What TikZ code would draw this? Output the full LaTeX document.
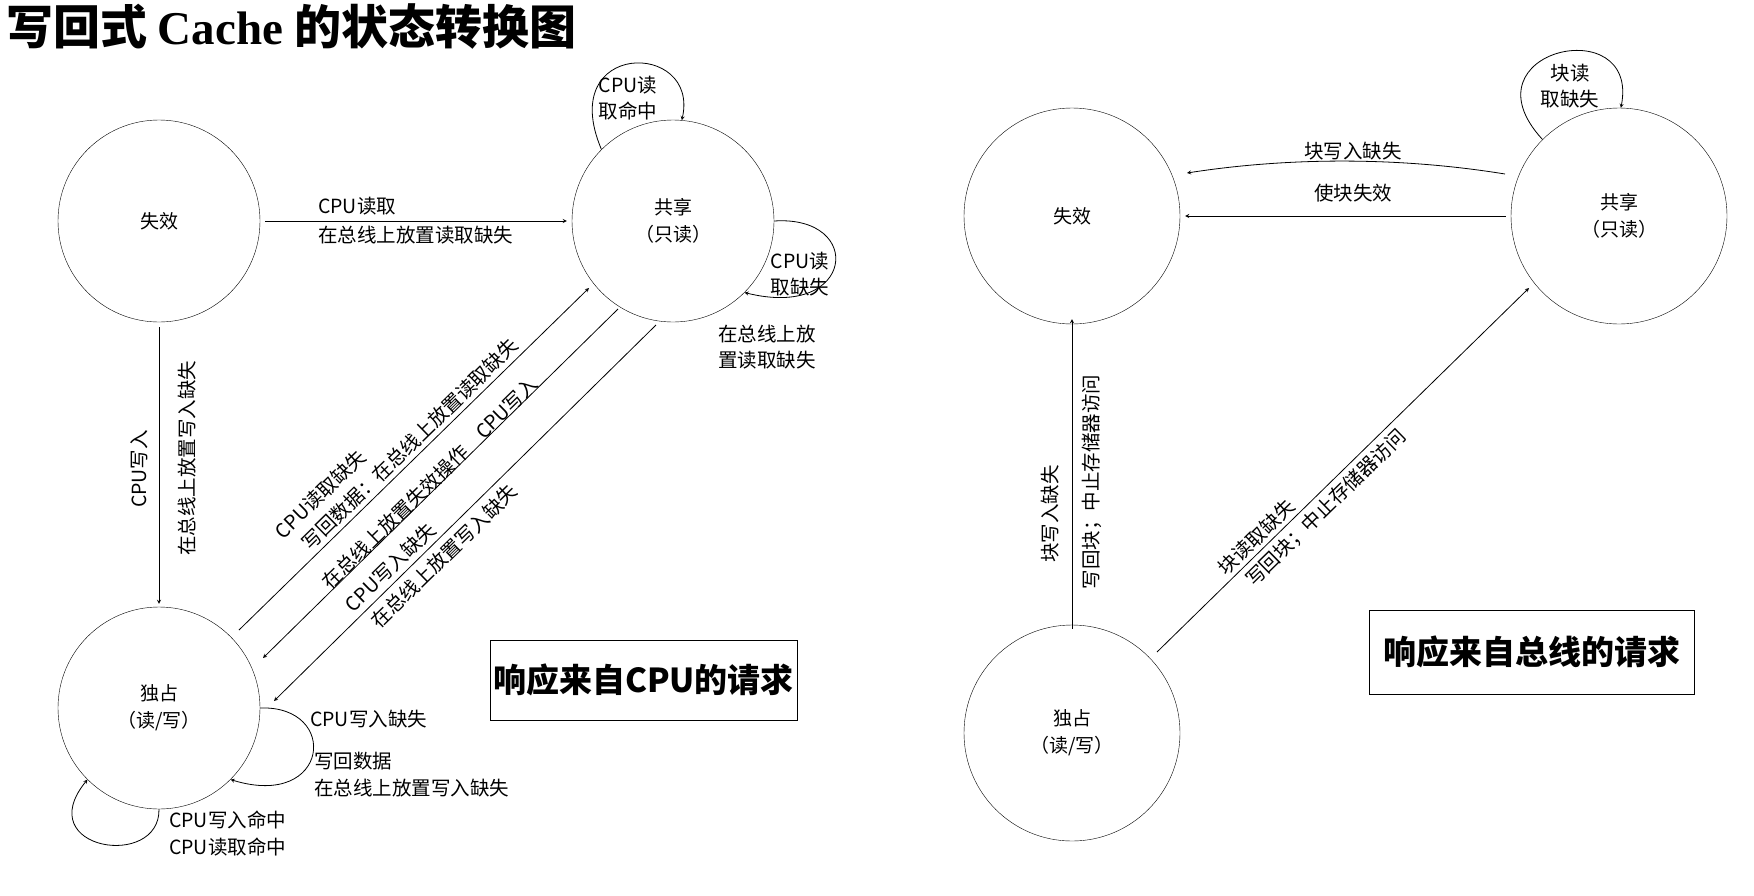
\documentclass[tikz,border=0pt]{standalone}
\usepackage{fontspec}
\setmainfont{Noto Sans CJK SC}
\newfontfamily\latinb{Liberation Serif}
\begin{document}
\begin{tikzpicture}[x=1pt,y=-1pt,
  st/.style={draw,circle,minimum size=202pt,inner sep=0pt,font=\fontsize{19}{27}\selectfont,align=center},
  stb/.style={st,minimum size=216pt},
  lb/.style={font=\fontsize{19.5}{26}\selectfont,inner sep=0pt,align=left},
  ar/.style={-stealth,line width=0.8pt},
  box/.style={draw,line width=0.8pt,font=\bfseries\fontsize{33}{36}\selectfont,inner sep=0pt}]
\useasboundingbox (0,0) rectangle (1754,895);
\node[anchor=base west,font=\bfseries\fontsize{47}{50}\selectfont,inner sep=0pt] (title) at (6,44) {写回式 {\latinb\bfseries Cache} 的状态转换图};
% left panel
\node[st] (inv) at (159,221) {失效};
\node[st] (sh) at (673,221) {共享\\（只读）};
\node[st] (ex) at (159,708) {独占\\（读/写）};
\draw[ar] ([xshift=5pt]inv.east) -- ([xshift=-5pt]sh.west);
\node[lb,anchor=west] (l1) at (318,206) {CPU读取};
\node[lb,anchor=west] (l2) at (318,235) {在总线上放置读取缺失};
\draw[ar] ([yshift=-5pt]inv.south) -- ([yshift=3pt]ex.north);
\node[lb,rotate=90] (l3) at (139,469) {CPU写入};
\node[lb,rotate=90] (l4) at (187,458) {在总线上放置写入缺失};
\coordinate (d1a) at (239,630); \coordinate (d1b) at (589,288);
\coordinate (d2a) at (618,309); \coordinate (d2b) at (263,658);
\coordinate (d3a) at (656,325); \coordinate (d3b) at (274,701);
\draw[ar] (d1a) -- (d1b);
\draw[ar] (d2a) -- (d2b);
\draw[ar] (d3a) -- (d3b);
\node[lb,rotate=44.3] (l5) at (320,494) {CPU读取缺失};
\node[lb,rotate=44.3] (l6) at (410,444) {写回数据：在总线上放置读取缺失};
\node[lb,rotate=44.3] (l7) at (430,483) {在总线上放置失效操作\quad CPU写入};
\node[lb,rotate=44.3] (l8) at (390,567) {CPU写入缺失};
\node[lb,rotate=44.3] (l9) at (444,556) {在总线上放置写入缺失};
\draw[ar] (sh.135) .. controls (555,40) and (700,40) .. (sh.85);
\node[lb,align=center] (l10) at (628,98) {CPU读\\取命中};
\draw[ar] (sh.0) .. controls (865,215) and (855,320) .. (sh.-45);
\node[lb,align=center] (l11) at (800,274) {CPU读\\取缺失};
\node[lb,align=center] (l12) at (767,347) {在总线上放\\置读取缺失};
\draw[ar] (ex.0) .. controls (340,705) and (330,810) .. (ex.-45);
\node[lb,anchor=west] (l13) at (310,719) {CPU写入缺失};
\node[lb,anchor=west] (l14) at (314,761) {写回数据};
\node[lb,anchor=west] (l15) at (314,788) {在总线上放置写入缺失};
\draw[ar] (ex.-90) .. controls (160,870) and (30,850) .. (ex.-135);
\node[lb,anchor=west] (l16) at (169,820) {CPU写入命中};
\node[lb,anchor=west] (l17) at (169,847) {CPU读取命中};
\node[box,minimum width=307pt,minimum height=80pt] (b1) at (643.5,680) {响应来自CPU的请求};
% right panel
\node[stb] (inv2) at (1072,216) {失效};
\node[stb] (sh2) at (1619,216) {共享\\（只读）};
\node[stb] (ex2) at (1072,733) {独占\\（读/写）};
\coordinate (r1a) at (1505,174); \coordinate (r1b) at (1187,173);
\draw[ar] (r1a) .. controls (1400,157) and (1290,157) .. (r1b);
\node[lb] (m1) at (1353,151) {块写入缺失};
\draw[ar] ([xshift=-5pt]sh2.west) -- ([xshift=5pt]inv2.east);
\node[lb] (m2) at (1353,193) {使块失效};
\draw[ar] ([yshift=-4pt]ex2.north) -- ([yshift=5pt]inv2.south);
\node[lb,rotate=90] (m3) at (1050,514) {块写入缺失};
\node[lb,rotate=90] (m4) at (1092,482) {写回块；中止存储器访问};
\coordinate (r2a) at (1157,652); \coordinate (r2b) at (1529,288);
\draw[ar] (r2a) -- (r2b);
\node[lb,rotate=44.4] (m5) at (1256,537) {块读取缺失};
\node[lb,rotate=44.4] (m6) at (1326,508) {写回块；中止存储器访问};
\draw[ar] (sh2.135) .. controls (1460,50) and (1640,10) .. (sh2.89);
\node[lb,align=center] (m7) at (1570,86) {块读\\取缺失};
\node[box,minimum width=325pt,minimum height=84pt] (b2) at (1531.5,652) {响应来自总线的请求};
\end{tikzpicture}
\end{document}
